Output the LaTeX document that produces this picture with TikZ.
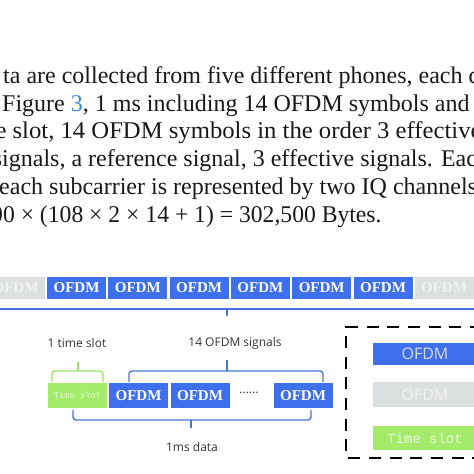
\documentclass[tikz,border=0pt]{standalone}
\usepackage{fontspec}
\setmainfont{Liberation Serif}
\setmonofont{Liberation Mono}
\newfontfamily\labelfont{Open Sans}
\usetikzlibrary{
    arrows.meta,  % arrow tips
    calc,         % coordinate calculations
    positioning   % relative placement
}

\definecolor{ofdmblue}{HTML}{3E6FEC}
\definecolor{idlegray}{HTML}{DCDFE0}
\definecolor{slotgreen}{HTML}{A4EB6C}
\definecolor{bracegreen}{HTML}{9EE066}
\definecolor{braceblue}{HTML}{4A74DC}
\definecolor{linkblue}{HTML}{3C86D8}
\definecolor{labelgray}{HTML}{333333}

\begin{document}
\begin{tikzpicture}[
    x=1pt, y=-1pt,
    line/.style={anchor=base west, inner sep=0pt, text=black!90,
        font=\fontsize{24}{28}\selectfont},
    % blocks of the frame
    ofdm/.style={fill=ofdmblue, text=white, inner sep=0pt,
        minimum width=59pt, minimum height=22pt,
        font=\bfseries\fontsize{15}{15}\selectfont},
    idle/.style={ofdm, fill=idlegray, text=white!60!idlegray},
    slot/.style={fill=slotgreen, text=white!75!slotgreen, inner sep=0pt,
        minimum width=59pt, minimum height=25pt,
        font=\ttfamily\fontsize{8.7}{9}\selectfont},
    brace/.style={braceblue, line width=1.4pt, rounded corners=3pt},
    lbl/.style={text=labelgray, inner sep=1pt,
        font=\labelfont\fontsize{12}{14}\selectfont},
    % legend boxes
    key/.style={inner sep=0pt, minimum width=104pt, text=white!85!black}
]
    \useasboundingbox (0,0) rectangle (474,474);
    \clip (0,0) rectangle (474,474);

    % Paragraph text
    \node[line] (txta) at (3,83)   {ta are collected from five different phones, each data};
    \node[line] (txtb) at (2,111)  {Figure \textcolor{linkblue}{3}, 1 ms including 14 OFDM symbols and};
    \node[line] (txtc) at (-4.7,138) {\scalebox{1.028}[1]{e slot, 14 OFDM symbols in the order 3 effective}};
    \node[line] (txtd) at (-7.3,166) {signals, a reference signal, 3 effective signals. Each};
    \node[line] (txte) at (-1,194)  {each subcarrier is represented by two IQ channels};
    \node[line] (txtf) at (-9,222)  {\scalebox{0.985}[1]{00 × (108 × 2 × 14 + 1) = 302,500 Bytes.}};

    % Frame of OFDM symbols
    \node[idle] (f0) at (15.5,288) {OFDM};
    \foreach \i in {1,...,6}
        \node[ofdm] (f\i) at ({76.5+61.3*(\i-1)},288) {OFDM};
    \node[idle] (f7) at (444,288) {OFDM};

    % Brace under the frame
    \coordinate (fb) at (227,316);
    \draw[brace] (-5,309) -- (480,309);
    \draw[brace] (fb |- 0,309) -- (fb);

    % One millisecond of data
    \node[slot] (ts) at (77.5,395.5) {Time slot};
    \node[ofdm, minimum height=25pt] (s1) at (138.5,395.5) {OFDM};
    \node[ofdm, minimum height=25pt] (s2) at (200,395.5) {OFDM};
    \node[lbl, text=black!80] (dots) at (249,393) {......};
    \node[ofdm, minimum height=25pt] (s14) at (303,395.5) {OFDM};

    \node[lbl] (one) at (77,343) {1 time slot};
    \node[lbl] (sig) at (235,343) {14 OFDM signals};
    \node[lbl] (ms)  at (192,447) {1ms data};

    % Braces
    \draw[brace, bracegreen] (52,382) -- (52,371) -- (103,371) -- (103,382);
    \draw[brace, bracegreen] (78,371) -- (78,362);
    \draw[brace] (129,382) -- (129,371) -- (323,371) -- (323,382);
    \draw[brace] (227,371) -- (227,360);
    \draw[brace] (73,410) -- (73,420) -- (311,420) -- (311,410);
    \draw[brace] (191,420) -- (191,428);

    % Legend
    \draw[line width=2.7pt, dash pattern=on 12pt off 8.7pt] (482,327) -- (346,327) -- (346,458) -- (482,458);
    \node[key, fill=ofdmblue, minimum height=22pt,
        font=\labelfont\fontsize{16}{16}\selectfont] (kofdm) at (425,354) {OFDM};
    \node[key, fill=idlegray, minimum height=25pt, text=white!60!idlegray,
        font=\labelfont\fontsize{16}{16}\selectfont] (kidle) at (425,394.5) {OFDM};
    \node[key, fill=slotgreen, minimum height=24pt, text=white!80!slotgreen,
        font=\ttfamily\fontsize{14}{14}\selectfont] (kslot) at (425,438) {Time slot};
\end{tikzpicture}
\end{document}
